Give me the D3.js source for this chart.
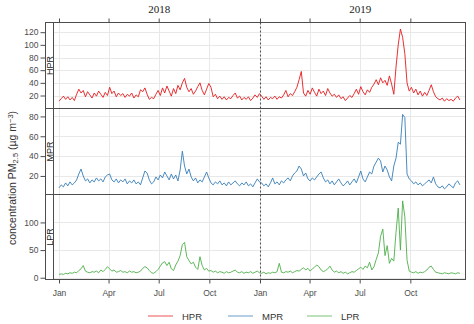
<!DOCTYPE html>
<html><head><meta charset="utf-8">
<script src="https://cdn.jsdelivr.net/npm/d3@7"></script>
<style>
body{margin:0;background:#fff}
svg{display:block}
text{font-family:"Liberation Sans",Arial,Helvetica,sans-serif}
</style>
</head><body>
<svg id="c" width="474" height="324"></svg>
<script>
// ---------------- data (one value every 4 days) ----------------
const seriesNames = ["HPR", "MPR", "LPR"];
const startDate = "2018-01-01";
const stepDays = 4;

const hpr = [
11,15,19,14,18,13,17,12,22,30,24,28,18,26,21,16,24,19,27,22,17,25,20,33,23,27,18,24,20,23,
17,22,19,24,16,21,18,29,26,32,22,14,17,15,22,28,20,32,24,35,27,19,31,23,36,29,40,47,33,26,
31,22,27,34,40,28,21,30,39,33,18,22,15,19,14,18,13,17,15,20,24,16,19,13,17,14,18,12,16,21,
17,23,
19,14,18,13,17,15,19,14,18,16,21,28,18,23,20,26,33,45,58,24,19,28,22,32,25,19,30,23,27,20,
31,24,19,22,17,21,15,18,12,16,20,17,23,30,22,34,26,21,29,25,33,38,45,37,48,40,44,36,51,38,
22,65,100,125,112,86,40,27,33,24,30,21,27,19,25,20,28,37,26,18,15,13,16,11,15,12,14,11,16,19,
13];

const mpr = [
8,11,9,13,10,14,11,13,16,22,27,20,15,17,13,16,14,18,15,17,14,19,21,22,16,14,17,13,16,14,
17,12,15,13,16,12,14,11,18,25,23,16,12,14,19,16,21,18,24,20,16,22,17,21,15,26,45,30,22,27,
19,15,18,13,16,14,19,24,18,13,11,14,12,15,11,13,10,14,11,13,15,12,10,13,11,14,10,12,9,13,
17,14,
13,10,12,9,13,18,12,14,11,15,13,16,18,15,20,23,25,30,27,20,23,17,15,18,16,19,22,24,18,14,
16,12,15,11,14,17,13,10,12,15,11,14,17,13,19,25,17,14,19,24,22,30,34,38,35,24,30,26,19,15,
30,38,54,52,82,79,22,17,15,12,14,11,13,10,12,14,16,13,19,12,9,8,10,7,9,12,10,8,13,15,
11];

const lpr = [
6,7,6,8,7,9,8,10,9,13,16,22,12,10,9,11,10,12,9,14,11,15,20,16,12,14,10,11,13,10,
11,9,12,10,11,9,10,12,17,20,18,13,9,8,11,15,21,27,29,22,28,16,13,23,30,40,60,64,38,31,
25,28,19,15,38,22,14,17,12,13,10,12,9,11,10,8,11,9,10,12,14,10,9,11,8,10,9,11,8,10,
12,9,
8,10,7,9,8,10,9,11,26,10,9,11,10,12,9,11,13,12,15,18,14,17,12,16,19,23,20,14,11,13,
16,21,14,10,12,9,11,8,10,7,9,11,10,13,16,19,15,21,18,28,14,20,33,45,75,88,40,58,26,35,
30,82,126,50,139,110,32,12,10,9,11,8,10,9,11,14,19,21,15,10,9,8,7,9,8,7,9,8,7,9,
8];

const yTicksHPR = [20, 40, 60, 80, 100, 120];
const yTicksMPR = [20, 40, 60, 80];
const yTicksLPR = [0, 50, 100];
const monthTickDates = ["2018-01-01","2018-04-01","2018-07-01","2018-10-01","2019-01-01","2019-04-01","2019-07-01","2019-10-01"];
const monthTickLabels = ["Jan","Apr","Jul","Oct","Jan","Apr","Jul","Oct"];
const yearLabels = ["2018", "2019"];
const yearLabelDates = ["2018-07-02", "2019-07-02"];
const yearBreakDate = "2019-01-01";

// ---------------- layout / styles ----------------
const colors = { HPR: "#E41A1C", MPR: "#377EB8", LPR: "#4DAF4A" };
const W = 474, H = 324;
const boxL = 45.5, stripR = 53.5, boxR = 465.5, boxT = 22.5, boxB = 279.5;
const panelEdges = [22.5, 108.5, 194.5, 279.5];
const yDomains = { HPR: [-0.5, 135.3], MPR: [1.3, 88], LPR: [-3.2, 150.5] };
const yTicks = { HPR: yTicksHPR, MPR: yTicksMPR, LPR: yTicksLPR };
const values = { HPR: hpr, MPR: mpr, LPR: lpr };

const parse = d3.utcParse("%Y-%m-%d");
const t0 = parse(startDate);
const dates = values.HPR.map((_, i) => d3.utcDay.offset(t0, i * stepDays));

const DAY = 864e5;
const pxPerDay = 201 / 365;
const x = d3.scaleUtc()
  .domain([new Date(+t0 - (59 - stripR) / pxPerDay * DAY), new Date(+t0 + (boxR - 59) / pxPerDay * DAY)])
  .range([stripR, boxR]);

const svg = d3.select("#c");
svg.append("rect").attr("width", W).attr("height", H).attr("fill", "#fff");

const defs = svg.append("defs");
const frameColor = "#4d4d4d";
const gridColor = "#e8e8e8";
const textColor = "#4d4d4d";

seriesNames.forEach((name, k) => {
  const top = panelEdges[k], bot = panelEdges[k + 1];
  const y = d3.scaleLinear().domain(yDomains[name]).range([bot, top]);
  const g = svg.append("g");

  defs.append("clipPath").attr("id", "clip" + k)
    .append("rect").attr("x", stripR).attr("y", top).attr("width", boxR - stripR).attr("height", bot - top);

  // grid
  g.selectAll(".vg").data(monthTickDates).join("line")
    .attr("x1", d => Math.round(x(parse(d))) + 0.5).attr("x2", d => Math.round(x(parse(d))) + 0.5)
    .attr("y1", top).attr("y2", bot).attr("stroke", gridColor).attr("stroke-width", 1);
  g.selectAll(".hg").data(yTicks[name]).join("line")
    .attr("x1", stripR).attr("x2", boxR)
    .attr("y1", d => Math.round(y(d)) + 0.5).attr("y2", d => Math.round(y(d)) + 0.5)
    .attr("stroke", gridColor).attr("stroke-width", 1);

  // series line
  const line = d3.line().x((d, i) => x(dates[i])).y(d => y(d));
  g.append("path").datum(values[name])
    .attr("clip-path", "url(#clip" + k + ")")
    .attr("d", line).attr("fill", "none")
    .attr("stroke", colors[name]).attr("stroke-width", 0.9).attr("stroke-linejoin", "round");

  // y axis
  const ax = d3.axisLeft(y).tickValues(yTicks[name]).tickSize(5).tickPadding(2);
  const ag = svg.append("g").attr("transform", `translate(${boxL},0)`).call(ax);
  ag.select(".domain").remove();
  ag.selectAll(".tick line").attr("stroke", frameColor);
  ag.selectAll(".tick text").attr("fill", textColor).style("font-size", "8.5px")
    .style("font-family", '"Liberation Sans",Arial,sans-serif');

  // strip label
  svg.append("text")
    .attr("transform", `translate(${(boxL + stripR) / 2 + 3.3},${(top + bot) / 2}) rotate(-90)`)
    .attr("text-anchor", "middle").attr("fill", "#1a1a1a").style("font-size", "9px").text(name);
});

// year break dashed line
svg.append("line")
  .attr("x1", Math.round(x(parse(yearBreakDate))) + 0.5).attr("x2", Math.round(x(parse(yearBreakDate))) + 0.5)
  .attr("y1", boxT).attr("y2", boxB).attr("stroke", "#555").attr("stroke-width", 1.1).attr("stroke-dasharray", "2,2");

// frames
const fr = svg.append("g").attr("fill", "none").attr("stroke", frameColor).attr("stroke-width", 1);
fr.append("rect").attr("x", boxL).attr("y", boxT).attr("width", boxR - boxL).attr("height", boxB - boxT);
panelEdges.slice(1, 3).forEach(e => fr.append("line").attr("x1", boxL).attr("x2", boxR).attr("y1", e).attr("y2", e));
fr.append("line").attr("x1", stripR).attr("x2", stripR).attr("y1", boxT).attr("y2", boxB);

// top ticks + year labels
const topAx = d3.axisTop(x).tickValues(monthTickDates.map(parse)).tickSize(4).tickFormat("");
const tg = svg.append("g").attr("transform", `translate(0,${boxT})`).call(topAx);
tg.select(".domain").remove();
tg.selectAll(".tick line").attr("stroke", frameColor);
svg.selectAll(".yr").data(yearLabels).join("text")
  .attr("x", (d, i) => x(parse(yearLabelDates[i]))).attr("y", 13)
  .attr("text-anchor", "middle").attr("fill", "#1a1a1a")
  .style("font-family", '"Liberation Serif","Times New Roman",serif').style("font-size", "11px")
  .text(d => d);

// bottom axis
const botAx = d3.axisBottom(x).tickValues(monthTickDates.map(parse)).tickSize(4).tickPadding(6)
  .tickFormat((d, i) => monthTickLabels[i]);
const bg = svg.append("g").attr("transform", `translate(0,${boxB})`).call(botAx);
bg.select(".domain").remove();
bg.selectAll(".tick line").attr("stroke", frameColor);
bg.selectAll(".tick text").attr("fill", textColor).style("font-size", "8.5px")
  .style("font-family", '"Liberation Sans",Arial,sans-serif');

// y-axis title
const yt = svg.append("text")
  .attr("transform", `translate(16,${178}) rotate(-90)`)
  .attr("text-anchor", "middle").attr("fill", "#333").style("font-size", "10.5px");
yt.append("tspan").text("concentration PM");
yt.append("tspan").attr("baseline-shift", "-25%").style("font-size", "7.5px").text("2.5");
yt.append("tspan").text(" (µg m");
yt.append("tspan").attr("baseline-shift", "40%").style("font-size", "7.5px").text("−3");
yt.append("tspan").text(")");

// legend
const legendX = [148, 228, 307];
const lg = svg.append("g");
seriesNames.forEach((name, i) => {
  lg.append("line").attr("x1", legendX[i]).attr("x2", legendX[i] + 25).attr("y1", 316).attr("y2", 316)
    .attr("stroke", colors[name]).attr("stroke-width", 1).attr("opacity", 0.75);
  lg.append("text").attr("x", legendX[i] + 34).attr("y", 319.5).attr("fill", "#333")
    .style("font-size", "9.5px").text(name);
});
</script>
</body></html>
